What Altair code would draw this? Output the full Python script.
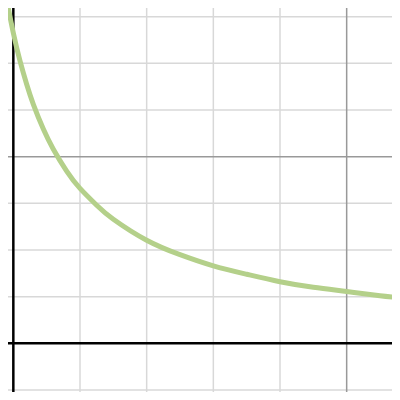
import altair as alt
import pandas as pd

# gridline positions (one unit = one minor grid step)
x_minor = [-1, 1, 2, 3, 4, 6]
x_major = [5]
y_minor = [-1, 1, 2, 3, 5, 6, 7]
y_major = [4]

# curve
curve_x = [-0.10, 0.0, 0.1, 0.2, 0.3, 0.45, 0.6, 0.8, 1.0, 1.25, 1.5, 2.0, 2.5, 3.0, 3.5, 4.0, 4.5, 5.0, 5.5, 5.9]
curve_y = [7.36, 6.65, 6.05, 5.55, 5.12, 4.59, 4.16, 3.69, 3.32, 2.96, 2.66, 2.21, 1.9, 1.66, 1.48, 1.32, 1.2, 1.11, 1.02, 0.96]

xs = alt.Scale(domain=[-0.08, 5.68], nice=False, zero=False)
ys = alt.Scale(domain=[-1.043, 7.185], nice=False, zero=False)


def vrules(vals, color, width):
    return alt.Chart(pd.DataFrame({'x': vals})).mark_rule(color=color, strokeWidth=width).encode(
        x=alt.X('x:Q', scale=xs, axis=None)
    )


def hrules(vals, color, width):
    return alt.Chart(pd.DataFrame({'y': vals})).mark_rule(color=color, strokeWidth=width).encode(
        y=alt.Y('y:Q', scale=ys, axis=None)
    )


curve = alt.Chart(pd.DataFrame({'x': curve_x, 'y': curve_y})).mark_line(
    color='#b4d08a', strokeWidth=5, interpolate='natural', clip=True
).encode(
    x=alt.X('x:Q', scale=xs, axis=None),
    y=alt.Y('y:Q', scale=ys, axis=None)
)

chart = alt.layer(
    vrules(x_minor, '#d8d8d8', 1.5),
    hrules(y_minor, '#d8d8d8', 1.5),
    vrules(x_major, '#999999', 1.5),
    hrules(y_major, '#999999', 1.5),
    vrules([0], '#000000', 2.5),
    hrules([0], '#000000', 2.5),
    curve
).properties(
    width=384,
    height=384,
    padding=0,
    autosize=alt.AutoSizeParams(type='none')
).configure_view(stroke=None)

chart.save("out.html", embed_options={"renderer": "svg", "actions": False})
